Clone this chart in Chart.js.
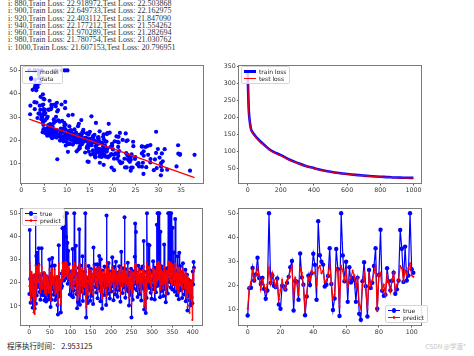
<!DOCTYPE html>
<html><head><meta charset="utf-8">
<script src="https://cdn.jsdelivr.net/npm/chart.js@4.4.0/dist/chart.umd.min.js"></script>
<style>
html,body{margin:0;padding:0;background:#fff;width:474px;height:356px;overflow:hidden;position:relative}
#log{position:absolute;left:8px;top:0px;font-family:"Liberation Serif","DejaVu Serif",serif;font-size:8px;line-height:7.25px;color:#333;white-space:pre}
#foot{position:absolute;left:7px;top:340px;font-family:"Noto Sans CJK SC",sans-serif;font-size:7.5px;color:#222;white-space:pre}
#mark{position:absolute;right:8px;top:341px;font-family:"Noto Sans CJK SC",sans-serif;font-size:6.5px;color:#c4c4c4;white-space:pre}
canvas{position:absolute}
.lg{position:absolute;background:rgba(255,255,255,0.8);border:1px solid #d6d6d6;border-radius:2px;font-family:"DejaVu Sans",sans-serif;font-size:6px;color:#222;padding:1px 3px 1px 2px}
.row{display:flex;align-items:center;height:7px;white-space:nowrap}
.sw{position:relative;width:12px;height:7px;margin-right:3px;display:inline-block}
.sw i{position:absolute;display:block}
</style></head>
<body>
<div id="log"></div>
<canvas id="c1" width="212" height="137" style="left:0px;top:58px"></canvas>
<canvas id="c2" width="214" height="137" style="left:218px;top:58px"></canvas>
<canvas id="c3" width="212" height="137" style="left:0px;top:200px"></canvas>
<canvas id="c4" width="214" height="137" style="left:218px;top:200px"></canvas>
<div id="foot"></div>
<div id="mark">CSDN @学渡*</div>
<script>
// ---------- console log text ----------
const logSteps = [880, 900, 920, 940, 960, 980, 1000];
const logTrainLoss = ["22.918972","22.649733","22.403112","22.177212","21.970289","21.780754","21.607153"];
const logTestLoss  = ["22.503868","22.162975","21.847090","21.554262","21.282694","21.030762","20.796951"];
const runTimeLabel = "程序执行时间：";
const runTime = "2.953125";

// ---------- chart 1: scatter (data) + model line ----------
const lstat = [
1.73,1.92,1.98,2.47,2.87,2.88,2.94,2.96,2.97,3.01,
3.11,3.16,3.26,3.32,3.53,3.54,3.57,3.70,3.76,3.81,
3.92,3.95,4.03,4.14,4.16,4.21,4.32,4.38,4.45,4.50,
4.56,4.59,4.61,4.67,4.70,4.73,4.81,4.82,4.84,4.85,
4.86,4.97,9.93,9.97,10.9,11.9,12.9,13.9,6.30,7.10,
5.03,5.04,5.08,5.10,5.12,5.19,5.21,5.25,5.29,5.33,
5.39,5.49,5.50,5.52,5.57,5.64,5.68,5.70,5.77,5.81,
5.89,5.90,5.98,5.99,6.05,6.07,6.12,6.15,6.19,6.21,
6.27,6.29,6.36,6.43,6.47,6.48,6.53,6.56,6.58,6.62,
6.65,6.72,6.75,6.78,6.86,6.87,6.92,7.01,7.12,7.14,
7.18,7.19,7.26,7.34,7.37,7.39,7.44,7.51,7.53,7.54,
7.60,7.67,7.70,7.73,7.79,7.83,7.85,7.88,7.90,8.01,
8.05,8.10,8.16,8.20,8.23,8.26,8.43,8.47,8.51,8.58,
8.65,8.67,8.77,8.79,8.81,8.88,8.93,9.04,9.08,9.10,
9.14,9.22,9.25,9.28,9.38,9.42,9.45,9.50,9.53,9.55,
9.59,9.62,9.64,9.67,9.68,9.69,9.71,9.74,9.80,9.88,
10.11,10.13,10.16,10.19,10.21,10.26,10.29,10.30,10.36,10.40,
10.42,10.45,10.50,10.53,10.56,10.58,10.63,10.74,10.87,10.88,
10.97,11.10,11.12,11.22,11.25,11.28,11.32,11.34,11.38,11.41,
11.48,11.50,11.64,11.65,11.66,11.69,11.72,11.74,11.97,11.98,
12.01,12.03,12.12,12.13,12.14,12.26,12.27,12.33,12.34,12.40,
12.43,12.50,12.60,12.64,12.67,12.79,12.80,12.86,12.87,12.92,
13.00,13.04,13.09,13.11,13.15,13.22,13.27,13.28,13.33,13.35,
13.44,13.45,13.51,13.59,13.61,13.65,13.83,13.99,14.00,14.10,
14.15,14.19,14.27,14.33,14.36,14.37,14.43,14.52,14.59,14.64,
14.65,14.67,14.69,14.70,14.76,14.79,14.80,14.81,14.98,15.02,
15.03,15.10,15.12,15.17,15.37,15.39,15.55,15.69,15.70,15.71,
15.76,15.79,15.84,15.94,16.03,16.14,16.20,16.21,16.22,16.23,
16.29,16.30,16.35,16.42,16.44,16.47,16.51,16.59,16.65,16.74,
16.90,16.94,16.96,17.09,17.10,17.11,17.12,17.15,17.16,17.19,
17.21,17.27,17.28,17.31,17.44,17.58,17.60,17.64,17.73,17.79,
17.92,17.93,18.03,18.05,18.06,18.07,18.13,18.14,18.33,18.35,
18.46,18.66,18.68,18.72,18.76,18.80,18.85,19.01,19.15,19.31,
19.37,19.52,19.69,19.77,19.78,19.88,19.92,20.08,20.31,20.32,
20.34,20.45,20.62,20.85,21.02,21.08,21.14,21.22,21.24,21.32,
21.45,21.52,21.78,22.11,22.60,22.74,22.88,22.98,23.09,23.24,
23.27,23.29,23.34,23.60,23.69,23.79,23.97,24.08,24.10,24.16,
24.39,24.56,24.91,25.41,25.68,25.79,26.40,26.42,26.45,26.64,
26.77,26.82,27.26,27.38,27.71,27.80,28.28,28.32,29.05,29.29,
29.53,29.55,29.68,29.93,30.59,30.62,30.63,30.81,31.99,30.30,
30.81,31.42,31.00,34.02,34.37,34.41,34.77,36.98,37.97,34.80,
21.60,21.30,23.00,24.50,26.50,26.80,28.30,22.20,25.00,24.00
];
const medv = [
50.0,31.2,34.9,41.7,36.4,50.0,33.4,50.0,42.8,46.0,
44.0,43.5,41.5,36.2,29.6,42.8,43.8,50.0,31.5,48.5,
46.7,31.6,34.9,44.8,33.1,38.7,30.8,29.1,50.0,30.1,
29.8,35.1,31.2,23.5,27.9,39.8,35.4,37.9,26.6,24.8,
33.4,32.2,21.0,22.0,23.5,19.5,18.8,20.3,27.0,29.0,
31.1,37.6,28.4,33.2,24.1,23.2,28.7,31.7,24.8,23.6,
24.0,24.5,25.0,22.8,29.4,23.9,22.0,23.8,30.1,25.3,
26.6,33.2,24.7,22.2,33.1,24.3,25.0,23.1,37.0,22.5,
23.4,24.6,23.2,24.0,33.4,22.0,26.6,21.6,35.2,34.1,
26.2,25.1,20.9,24.1,23.3,25.8,23.0,24.5,27.5,23.1,
23.9,21.5,35.4,22.6,21.9,24.4,50.0,22.9,28.2,34.6,
30.1,24.1,23.4,21.2,36.1,24.3,32.4,11.9,21.7,21.9,
33.0,28.6,22.0,21.8,22.2,22.2,28.0,19.9,22.7,23.7,
25.0,23.1,21.0,20.8,35.4,50.0,28.4,23.6,20.6,21.6,
21.2,19.6,21.0,25.0,21.2,27.5,26.4,25.0,50.0,21.6,
33.8,36.5,22.8,22.4,22.1,24.6,26.7,17.8,19.5,22.5,
50.0,22.6,22.4,20.9,15.1,18.7,24.0,30.7,23.1,18.4,
21.2,18.5,20.6,26.0,18.5,21.9,18.6,22.3,22.6,24.4,
24.0,20.1,22.8,22.2,31.0,18.2,22.4,21.4,22.0,20.8,
22.7,20.0,19.2,24.7,21.4,20.2,21.7,22.9,21.5,23.3,
21.2,19.3,15.3,19.1,19.7,19.6,20.1,20.1,21.2,20.1,
26.1,16.1,27.1,19.6,22.4,17.4,16.6,22.5,19.8,21.2,
21.7,19.3,19.6,21.4,28.7,21.6,18.3,19.9,23.1,20.1,
23.8,19.1,23.3,24.5,19.9,20.6,19.6,14.8,21.1,21.0,
20.0,19.9,20.3,16.8,23.0,20.8,17.4,10.9,17.1,16.8,
17.7,18.9,20.4,22.4,10.8,15.2,18.9,23.1,19.1,23.7,
18.4,18.2,20.6,13.9,30.3,17.9,19.0,15.7,14.2,21.7,
21.7,19.4,20.2,19.8,22.4,13.1,14.1,19.4,12.7,19.2,
17.5,19.5,27.5,16.4,15.4,19.1,19.4,18.1,15.2,21.1,
21.4,20.6,16.2,14.6,15.4,19.5,13.1,18.7,23.9,16.2,
10.4,15.6,14.9,15.8,16.0,18.9,12.9,14.5,18.8,13.5,
21.5,17.5,15.6,9.5,22.6,20.5,14.1,16.4,17.8,13.1,
19.5,19.5,13.0,15.2,22.7,16.3,23.1,12.7,27.1,13.3,
23.3,17.1,14.1,13.9,8.3,18.5,17.7,16.1,12.1,7.2,
13.8,19.6,14.4,21.7,12.1,19.4,14.4,17.2,13.3,19.1,
15.4,11.0,10.2,10.5,12.1,8.4,23.0,14.5,8.4,13.9,
13.4,20.0,11.9,11.3,13.1,10.8,7.0,8.3,13.3,14.0,
8.3,17.5,12.0,9.7,10.2,8.8,17.4,14.4,8.7,10.4,
5.6,13.4,17.2,8.5,17.6,13.8,10.5,12.0,7.2,11.8,
14.6,23.7,8.1,16.3,5.0,10.2,8.8,7.2,7.4,12.6,
14.4,16.2,11.0,8.8,17.9,14.3,13.8,7.0,13.8,14.1,
23.2,21.5,19.7,19.4,17.3,15.3,18.0,20.2,12.8,11.7
];
const modelX = [1.73, 37.97];
const modelY = [29.15, 4.0];
const c1XTicks = [0, 5, 10, 15, 20, 25, 30, 35];
const c1YTicks = [10, 20, 30, 40, 50];

// ---------- chart 2: loss curves ----------
const lossEpochs = [0,3,6,10,15,20,30,40,50,75,100,130,150,200,250,300,350,400,450,500,550,600,650,700,750,800,850,880,900,920,940,960,980,1000];
const trainLoss = [339,275,228,200,180,166,156,149,143,130,119,106,100,89,76,66,57,50.5,44.5,39.8,36,33,30.5,28.5,26.7,25.2,24.0,22.92,22.65,22.40,22.18,21.97,21.78,21.61];
const testLoss  = [334,272,226,198,178,164,154.5,147.5,141.5,128.5,117.5,104.5,98.5,87.5,74.8,65,56.2,49.7,43.8,39.2,35.4,32.5,30,28,26.2,24.7,23.5,22.50,22.16,21.85,21.55,21.28,21.03,20.80];
const c2XTicks = [0, 200, 400, 600, 800, 1000];
const c2YTicks = [50, 100, 150, 200, 250, 300, 350];

// ---------- chart 3: train set true vs predict ----------
const trainTrue = [
15.2,42.8,21.6,11.4,18.9,23.1,13.8,17.5,9.2,22.4,11.9,19.4,16.6,8.9,23.3,48.3,11.0,31.6,14.5,33.0,
18.2,19.1,27.9,34.9,22.6,16.0,18.1,12.7,20.5,23.2,34.9,15.6,15.0,14.6,19.4,16.6,24.1,12.5,20.3,23.0,
13.1,11.9,21.7,17.1,22.2,15.4,18.8,12.8,14.3,30.1,20.6,16.7,9.6,23.8,12.7,27.1,30.7,17.2,22.0,19.3,
14.9,21.2,27.5,12.6,18.4,16.3,21.8,13.4,19.6,10.4,6.3,22.5,36.2,15.6,20.1,14.1,19.9,7.2,17.7,24.0,
18.5,43.5,22.8,25.3,43.8,21.0,48.5,27.5,23.9,50.0,39.8,22.1,50.0,37.3,19.6,33.8,24.2,28.1,21.4,15.0,
23.5,20.0,18.9,25.0,14.3,21.6,34.6,13.8,20.3,16.8,50.0,22.4,25.1,18.7,36.0,15.2,20.9,9.0,23.9,11.7,
17.8,26.4,43.1,22.3,10.5,27.5,20.1,16.1,24.7,19.3,31.5,12.1,21.4,23.9,18.0,15.4,24.8,50.0,20.3,5.0,
19.6,22.0,13.9,11.3,18.8,27.2,21.5,16.9,24.4,12.3,19.7,26.0,14.4,21.8,17.3,23.5,10.9,35.2,20.8,23.1,
27.9,18.2,22.7,25.5,15.8,20.4,28.0,13.3,19.2,24.6,21.1,31.6,17.5,22.9,12.0,30.2,16.4,23.7,8.8,20.6,
25.3,19.0,22.4,14.7,27.0,21.9,18.3,23.4,10.4,49.0,20.2,26.6,15.3,21.5,28.5,17.4,23.8,13.2,20.0,24.9,
19.4,16.2,22.8,31.0,18.5,24.1,12.5,21.2,26.8,19.9,15.1,23.2,29.1,17.0,22.6,20.4,14.0,24.5,18.7,21.7,
27.1,16.9,23.3,11.8,20.5,33.4,19.1,24.0,15.6,22.2,26.3,18.0,21.4,48.3,20.7,13.6,25.8,19.5,22.9,17.2,
23.6,28.7,16.3,21.0,10.2,24.4,19.8,22.5,14.8,26.1,5.0,21.3,18.4,12.7,25.0,20.0,17.6,23.1,31.2,45.6,
19.6,41.9,22.4,16.8,24.3,13.9,20.6,27.4,18.1,22.8,15.2,21.7,25.9,19.2,12.4,23.5,20.1,27.0,17.5,22.3,
38.0,8.5,21.0,24.7,16.6,7.0,20.3,13.4,50.0,22.5,19.1,36.5,23.6,17.8,36.2,21.1,25.4,15.7,20.9,13.1,
18.8,24.2,21.5,29.3,17.2,23.0,19.6,12.8,26.5,20.4,15.9,22.7,45.0,18.6,50.0,24.1,50.0,20.0,50.0,19.4,
13.8,42.0,22.8,27.1,16.5,21.3,25.6,18.9,14.3,23.4,36.5,20.7,17.3,24.9,11.6,22.1,19.0,26.3,21.8,15.4,
50.0,23.7,50.0,20.3,37.6,50.0,18.0,50.0,22.6,28.2,17.1,43.7,24.8,19.5,33.1,21.2,16.1,47.5,23.4,20.0,
25.1,14.6,21.7,31.5,18.2,23.9,12.9,33.0,20.6,27.3,16.8,22.4,19.9,24.6,13.5,21.0,28.4,17.7,23.2,19.3,
15.0,22.0,25.6,12.0,20.8,18.4,23.5,8.1,16.7,21.4,14.2,19.1,12.5,17.3,10.2,20.7,16.0,13.8,19.6,11.2,
24.9,19.3,29.0,26.5
];
const trainPredict = [
18.5,28.4,24.1,12.0,20.2,24.8,16.1,19.7,14.3,23.5,7.2,20.8,16.2,6.5,23.8,27.5,13.0,26.9,17.8,27.0,
20.1,21.0,25.6,27.8,23.9,18.2,20.4,15.8,22.1,24.3,27.2,17.9,17.3,18.0,21.2,18.9,24.6,15.5,21.9,23.8,
16.4,14.7,22.6,19.3,23.1,17.8,20.5,15.9,17.2,25.8,22.0,18.6,12.3,23.9,16.1,25.3,26.4,19.5,22.8,21.0,
17.6,22.4,25.7,15.2,20.1,18.7,22.9,16.0,21.3,13.1,10.4,23.0,28.3,18.2,21.7,16.8,21.2,11.0,19.6,24.5,
20.7,28.6,23.5,25.2,28.0,22.3,28.9,25.8,24.2,29.0,27.5,23.1,28.5,27.2,21.5,26.8,24.4,25.9,22.6,18.1,
24.0,21.8,20.6,25.1,17.4,22.8,27.3,16.9,21.7,19.2,28.7,23.3,24.9,20.4,27.1,17.8,22.2,12.6,24.3,15.0,
20.1,25.6,28.2,23.1,14.0,25.9,21.5,18.7,24.6,21.0,26.3,15.4,22.4,24.0,20.3,18.1,24.7,28.4,21.6,9.3,
21.1,22.9,17.0,15.1,20.6,25.7,22.4,19.3,24.2,15.8,21.3,25.5,17.6,22.8,19.7,23.9,14.7,27.4,22.0,23.6,
26.1,20.4,23.2,25.0,18.6,21.9,26.2,16.5,21.0,24.3,22.1,26.8,19.6,23.5,15.9,26.0,19.2,24.0,12.9,21.8,
24.8,21.0,23.1,17.9,25.6,22.6,20.2,23.8,14.2,28.6,21.9,25.3,18.5,22.4,26.1,19.8,24.0,16.6,21.5,24.4,
21.2,18.9,23.3,26.7,20.5,24.1,15.8,22.3,25.4,21.4,18.2,23.6,26.0,19.6,23.0,21.7,17.3,24.3,20.6,22.5,
25.5,19.4,23.7,15.2,21.8,26.9,20.7,24.2,18.4,22.8,25.2,20.1,22.3,28.1,21.6,16.8,25.0,21.2,23.4,19.5,
23.9,26.0,18.9,22.0,13.6,24.1,21.3,23.0,17.7,25.1,10.8,22.1,20.3,15.9,24.6,21.4,19.8,23.5,26.8,28.2,
21.5,27.9,23.2,19.6,24.3,17.0,21.9,25.8,20.4,23.3,18.1,22.5,25.2,20.9,15.7,23.6,21.4,25.5,19.8,22.9,
27.3,10.0,22.2,24.4,19.2,8.6,21.6,16.5,28.5,23.0,20.6,26.9,23.8,20.2,27.0,22.1,24.8,18.6,22.0,16.2,
20.9,24.0,22.4,26.2,19.7,23.4,21.2,15.9,25.3,21.8,18.8,23.1,28.0,20.6,28.8,24.0,29.0,21.5,28.6,21.2,
17.0,27.6,23.5,25.4,19.3,22.3,24.7,20.8,17.5,23.6,26.9,21.9,19.6,24.5,15.1,22.7,20.9,25.2,22.5,18.4,
28.9,23.8,29.2,21.6,27.1,28.7,20.4,28.5,23.1,25.6,19.5,27.8,24.3,21.2,26.4,22.2,18.9,28.3,23.6,21.4,
24.5,17.2,22.4,26.7,20.3,23.9,15.6,26.4,21.7,25.3,19.0,22.9,21.0,24.1,16.3,22.0,25.8,19.9,23.4,20.8,
17.8,22.6,24.4,13.9,21.4,19.5,23.2,9.6,18.3,21.8,15.7,20.3,7.0,18.5,13.2,21.1,17.6,15.5,20.4,4.0,
24.0,20.6,26.1,25.3
];
const c3XTicks = [0, 50, 100, 150, 200, 250, 300, 350, 400];
const c3YTicks = [10, 20, 30, 40, 50];

// ---------- chart 4: test set true vs predict ----------
const testTrue = [
7.4,18.8,19.0,27.2,22.0,24.5,31.5,23.0,20.5,23.1,
18.5,14.4,17.8,50.0,21.0,24.2,19.8,19.3,22.8,12.0,
10.2,19.8,19.5,18.2,21.0,23.5,27.5,30.1,9.5,21.8,
21.5,14.0,33.2,23.3,20.2,7.5,15.3,24.0,20.1,25.0,
33.1,28.5,14.0,46.7,32.5,29.8,28.6,19.5,20.2,23.9,
35.4,20.5,9.7,14.5,35.1,26.7,7.2,50.0,32.4,21.7,
29.8,13.1,27.5,21.2,23.1,22.2,13.1,23.2,8.1,5.6,
21.7,29.6,19.6,7.0,26.4,18.9,21.0,28.0,35.4,10.2,
24.3,43.1,17.7,15.6,16.1,27.1,21.7,17.9,21.9,25.2,
16.5,18.3,22.0,43.0,35.2,21.4,36.1,22.0,24.1,50.0,
26.7,25.2
];
const testPredict = [
10.2,19.1,21.3,26.1,22.2,24.3,27.0,24.1,18.2,22.4,
20.1,17.2,20.3,27.3,21.0,25.2,22.1,19.2,22.3,14.1,
18.0,22.2,19.1,18.3,22.0,23.1,26.2,28.0,14.2,23.1,
21.2,16.0,27.1,25.3,20.2,9.1,16.2,23.3,22.1,26.0,
25.1,25.3,20.1,27.2,28.1,25.0,26.1,21.2,22.0,24.1,
29.0,21.1,14.2,16.1,27.0,26.2,11.1,28.0,26.0,22.1,
26.2,19.1,22.3,23.2,26.0,24.1,19.2,23.0,12.1,10.2,
20.1,25.0,18.2,10.1,24.2,20.0,22.1,25.2,28.1,9.2,
24.1,25.2,18.1,20.2,16.0,24.2,21.1,17.2,22.3,25.1,
18.1,20.2,22.1,28.0,27.2,22.0,26.1,24.3,27.1,29.0,
24.1,23.5
];
const c4XTicks = [0, 20, 40, 60, 80, 100];
const c4YTicks = [10, 20, 30, 40, 50];

// ---------- legends ----------
const legend1Labels = ["model", "data"];
const legend2Labels = ["train loss", "test loss"];
const legendTPLabels = ["true", "predict"];

// ================= rendering =================
const BLUE = '#0000ff', RED = '#ff0000';
document.getElementById('log').textContent = logSteps.map((s, i) =>
  `i: ${s},Train Loss: ${logTrainLoss[i]},Test Loss: ${logTestLoss[i]}`).join('\n');
document.getElementById('foot').textContent = runTimeLabel + " " + runTime;

const xy = (xs, ys) => ys.map((y, i) => ({ x: xs[i], y }));
const idx = ys => ys.map((y, i) => ({ x: i, y }));

function axis(min, max, tickVals, size, isX) {
  return {
    type: 'linear', min, max,
    afterBuildTicks: s => { s.ticks = tickVals.map(v => ({ value: v })); },
    afterFit: s => { if (isX) s.height = size; else s.width = size; },
    grid: { display: true, drawOnChartArea: false, drawTicks: true, tickLength: 2.5, color: '#333', lineWidth: 0.8 },
    border: { display: false },
    ticks: { font: { size: 6.3, family: 'DejaVu Sans' }, color: '#333', padding: 1.2, maxRotation: 0, autoSkip: false,
             callback: v => String(v) }
  };
}
const framePlugin = {
  id: 'frame',
  afterDatasetsDraw(c) {
    const a = c.chartArea, ctx = c.ctx;
    ctx.save(); ctx.strokeStyle = '#7a7a7a'; ctx.lineWidth = 1;
    ctx.strokeRect(Math.round(a.left) - 0.5, Math.round(a.top) + 0.5, Math.round(a.right - a.left) + 1, Math.round(a.bottom - a.top));
    ctx.restore();
  }
};
function base(pad, xs, ys) {
  return {
    responsive: false, animation: false, events: [],
    layout: { padding: { top: pad.top, right: pad.right, left: 0, bottom: 0 } },
    plugins: { legend: { display: false }, tooltip: { enabled: false } },
    scales: { x: xs, y: ys }
  };
}

new Chart(document.getElementById('c1'), {
  type: 'scatter',
  data: { datasets: [
    { data: xy(modelX, modelY), showLine: true, borderColor: RED, borderWidth: 1.4, pointRadius: 0, order: 0 },
    { data: xy(lstat, medv), backgroundColor: BLUE, borderWidth: 0, pointRadius: 2.1, order: 1 }
  ]},
  options: base({ top: 7, right: 9.2 }, axis(-0.08, 39.78, c1XTicks, 12, true), axis(1.7, 52.35, c1YTicks, 21, false)),
  plugins: [framePlugin]
});

new Chart(document.getElementById('c2'), {
  type: 'line',
  data: { datasets: [
    { data: xy(lossEpochs, trainLoss), borderColor: BLUE, borderWidth: 2.6, pointRadius: 0, cubicInterpolationMode: 'monotone', order: 2 },
    { data: xy(lossEpochs, testLoss), borderColor: 'rgba(255,0,0,0.85)', borderWidth: 1.3, pointRadius: 0, cubicInterpolationMode: 'monotone', order: 1 }
  ]},
  options: base({ top: 7, right: 10.3 }, axis(-50, 1050, c2XTicks, 12, true), axis(6.6, 355, c2YTicks, 21.4, false)),
  plugins: [framePlugin]
});

new Chart(document.getElementById('c3'), {
  type: 'line',
  data: { datasets: [
    { data: idx(trainTrue), borderColor: BLUE, borderWidth: 1.0, pointRadius: 2.0, pointBackgroundColor: BLUE, pointBorderWidth: 0, order: 2 },
    { data: idx(trainPredict), borderColor: RED, borderWidth: 1.0, pointRadius: 1.0, pointBackgroundColor: RED, pointBorderWidth: 0, order: 1 }
  ]},
  options: base({ top: 7.7, right: 9.8 }, axis(-20.15, 423.15, c3XTicks, 12, true), axis(1.8, 52.4, c3YTicks, 21.1, false)),
  plugins: [framePlugin]
});

new Chart(document.getElementById('c4'), {
  type: 'line',
  data: { datasets: [
    { data: idx(testTrue), borderColor: BLUE, borderWidth: 1.2, pointRadius: 2.2, pointBackgroundColor: BLUE, pointBorderWidth: 0, order: 2 },
    { data: idx(testPredict), borderColor: RED, borderWidth: 1.2, pointRadius: 1.1, pointBackgroundColor: RED, pointBorderWidth: 0, order: 1 }
  ]},
  options: base({ top: 7.7, right: 10.4 }, axis(-5.05, 106.05, c4XTicks, 12, true), axis(3.46, 52.3, c4YTicks, 21.4, false)),
  plugins: [framePlugin]
});

function legend(left, top, items) {
  const d = document.createElement('div'); d.className = 'lg';
  d.style.left = left + 'px'; d.style.top = top + 'px';
  items.forEach(it => {
    const r = document.createElement('div'); r.className = 'row';
    const sw = document.createElement('span'); sw.className = 'sw';
    if (it.lw) { const l = document.createElement('i'); l.style.cssText = `left:0;width:12px;top:${3.5 - it.lw / 2}px;height:${it.lw}px;background:${it.color}`; sw.appendChild(l); }
    if (it.r) { const m = document.createElement('i'); m.style.cssText = `left:${6 - it.r}px;top:${3.5 - it.r}px;width:${2 * it.r}px;height:${2 * it.r}px;border-radius:50%;background:${it.color}`; sw.appendChild(m); }
    const t = document.createElement('span'); t.textContent = it.label;
    r.appendChild(sw); r.appendChild(t); d.appendChild(r);
  });
  document.body.appendChild(d);
}
legend(22, 66, [{ label: legend1Labels[0], color: RED, lw: 1.4 }, { label: legend1Labels[1], color: BLUE, r: 2.1 }]);
legend(241, 66, [{ label: legend2Labels[0], color: BLUE, lw: 2.2 }, { label: legend2Labels[1], color: RED, lw: 1.3 }]);
legend(22, 208, [{ label: legendTPLabels[0], color: BLUE, lw: 1.1, r: 2.1 }, { label: legendTPLabels[1], color: RED, lw: 1.1, r: 1.1 }]);
legend(385, 305, [{ label: legendTPLabels[0], color: BLUE, lw: 1.2, r: 2.2 }, { label: legendTPLabels[1], color: RED, lw: 1.2, r: 1.1 }]);
</script>
</body></html>
